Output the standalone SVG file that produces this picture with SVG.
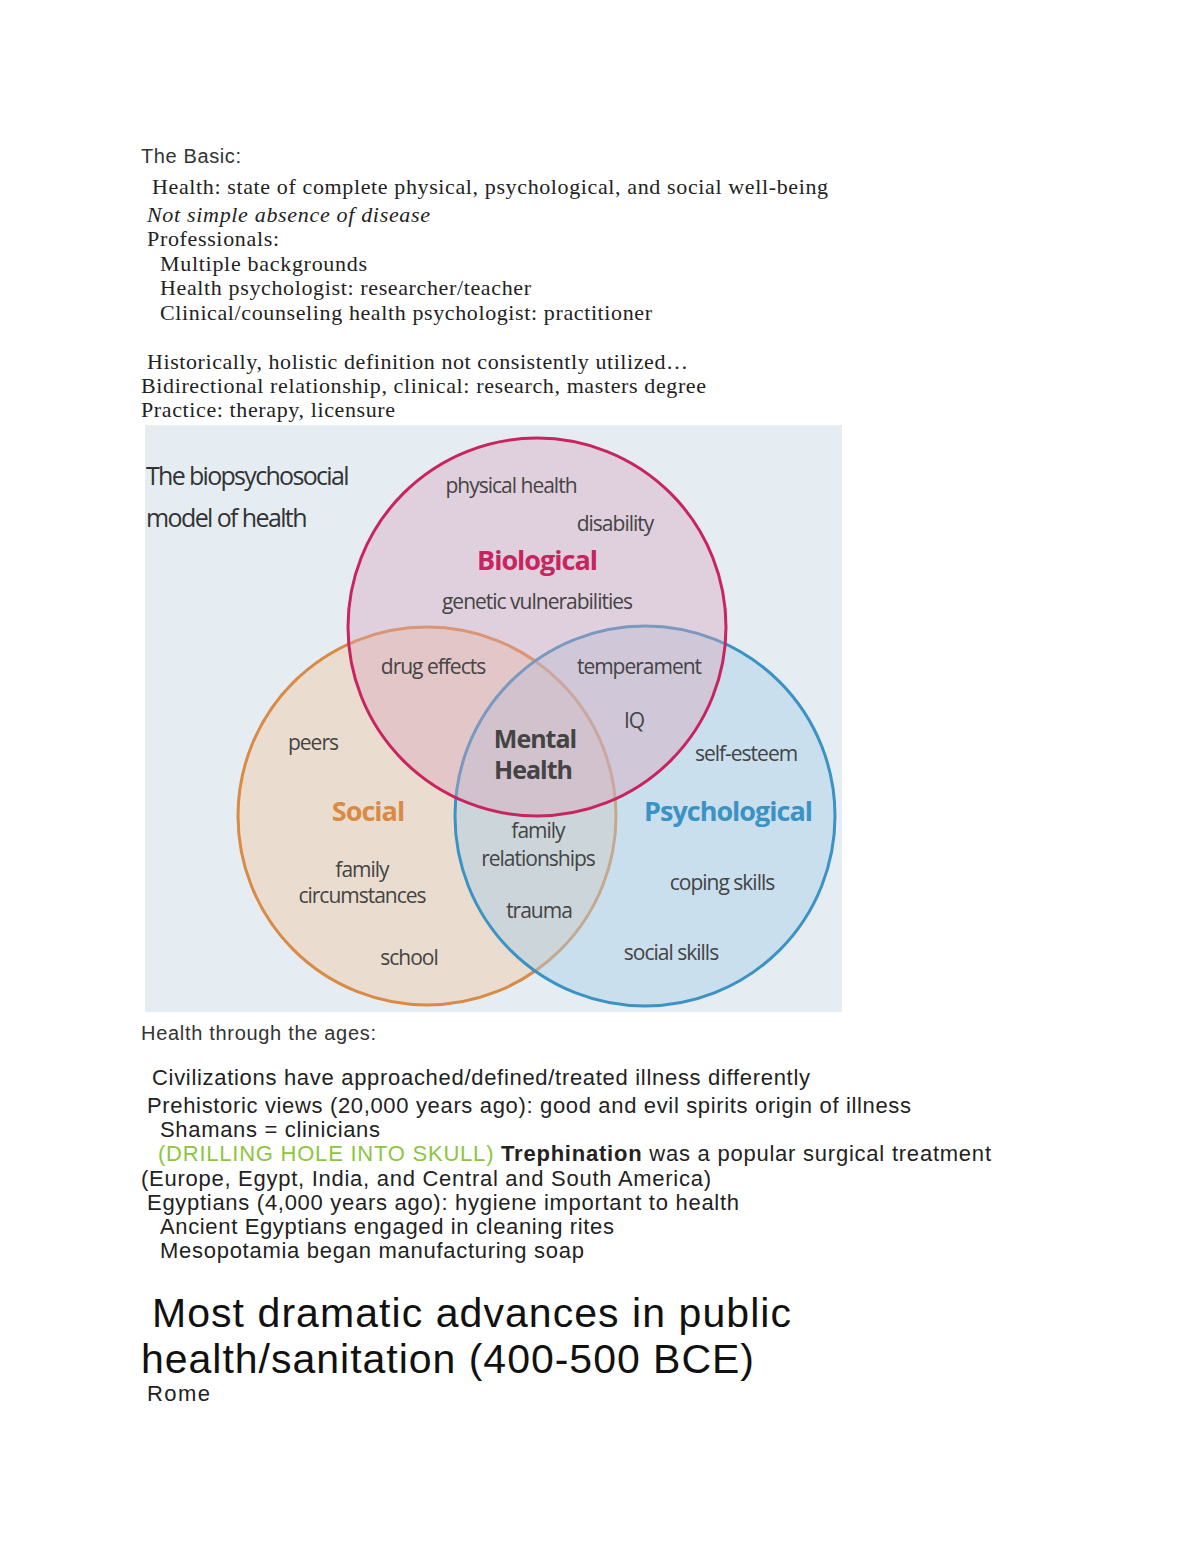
<svg xmlns="http://www.w3.org/2000/svg" width="1200" height="1553" viewBox="0 0 1200 1553">
<style>
.s{font-family:"Liberation Serif",serif;font-size:22px;fill:#222}
.a{font-family:"Liberation Sans",sans-serif;font-size:22px;fill:#222}
.v{font-family:"Open Sans","Liberation Sans",sans-serif;font-size:21px;fill:#444;text-anchor:middle;letter-spacing:-1px}
.h{font-family:"Open Sans","Liberation Sans",sans-serif;font-size:27px;font-weight:bold;text-anchor:middle;letter-spacing:-1px}
</style>
<rect width="1200" height="1553" fill="#fff"/>
<g id="top-text">
<text class="a" x="141" y="163" textLength="100" style="font-size:20px;fill:#333">The Basic:</text>
<text class="s" x="152" y="194" textLength="676">Health: state of complete physical, psychological, and social well-being</text>
<text class="s" x="147" y="222" textLength="283" font-style="italic">Not simple absence of disease</text>
<text class="s" x="147" y="246" textLength="132">Professionals:</text>
<text class="s" x="160" y="271" textLength="207">Multiple backgrounds</text>
<text class="s" x="160" y="295" textLength="371">Health psychologist: researcher/teacher</text>
<text class="s" x="160" y="320" textLength="492">Clinical/counseling health psychologist: practitioner</text>
<text class="s" x="147" y="369" textLength="541">Historically, holistic definition not consistently utilized…</text>
<text class="s" x="141" y="393" textLength="565">Bidirectional relationship, clinical: research, masters degree</text>
<text class="s" x="141" y="417" textLength="254">Practice: therapy, licensure</text>
</g>
<g id="venn">
<rect x="145" y="425" width="697" height="587" fill="#e5edf3"/>
<text x="146" y="485" textLength="202" style="font-family:'Open Sans',sans-serif;font-size:25px;fill:#333;letter-spacing:-1.5px">The biopsychosocial</text>
<text x="146" y="527" textLength="160" style="font-family:'Open Sans',sans-serif;font-size:25px;fill:#333;letter-spacing:-1.5px">model of health</text>
<g id="social"><circle cx="427" cy="816" r="189" fill="#f0c9a4" fill-opacity="0.45" stroke="#d98a45" stroke-width="3"/></g>
<g id="psychological"><circle cx="645" cy="816" r="190" fill="#a9cfe6" fill-opacity="0.45" stroke="#3b92c4" stroke-width="3"/></g>
<g id="biological"><circle cx="537" cy="627" r="189" fill="#d9a6bc" fill-opacity="0.4" stroke="#c8245f" stroke-width="3"/></g>
<text class="v" x="511" y="493">physical health</text>
<text class="v" x="615" y="531">disability</text>
<text class="h" x="537" y="570" fill="#c8245f">Biological</text>
<text class="v" x="537" y="609">genetic vulnerabilities</text>
<text class="v" x="433" y="674">drug effects</text>
<text class="v" x="639" y="674">temperament</text>
<text class="v" x="634" y="728">IQ</text>
<text class="v" x="313" y="750">peers</text>
<text class="v" x="746" y="761">self-esteem</text>
<text class="h" x="535" y="748" style="font-size:25px" fill="#444">Mental</text>
<text class="h" x="533" y="779" style="font-size:25px" fill="#444">Health</text>
<text class="h" x="368" y="821" fill="#d98a45">Social</text>
<text class="h" x="728" y="821" fill="#3b92c4">Psychological</text>
<text class="v" x="538" y="838">family</text>
<text class="v" x="538" y="866">relationships</text>
<text class="v" x="362" y="877">family</text>
<text class="v" x="362" y="903">circumstances</text>
<text class="v" x="722" y="890">coping skills</text>
<text class="v" x="539" y="918">trauma</text>
<text class="v" x="409" y="965">school</text>
<text class="v" x="671" y="960">social skills</text>
</g>
<g id="bottom-text">
<text class="a" x="141" y="1040" textLength="235" style="font-size:20px;fill:#333">Health through the ages:</text>
<text class="a" x="152" y="1085" textLength="658">Civilizations have approached/defined/treated illness differently</text>
<text class="a" x="147" y="1113" textLength="764">Prehistoric views (20,000 years ago): good and evil spirits origin of illness</text>
<text class="a" x="160" y="1137" textLength="220">Shamans = clinicians</text>
<text class="a" x="158" y="1161" textLength="833"><tspan fill="#8cc63f">(DRILLING HOLE INTO SKULL)</tspan> <tspan font-weight="bold">Trephination</tspan> was a popular surgical treatment</text>
<text class="a" x="141" y="1186" textLength="570">(Europe, Egypt, India, and Central and South America)</text>
<text class="a" x="147" y="1210" textLength="592">Egyptians (4,000 years ago): hygiene important to health</text>
<text class="a" x="160" y="1234" textLength="454">Ancient Egyptians engaged in cleaning rites</text>
<text class="a" x="160" y="1258" textLength="424">Mesopotamia began manufacturing soap</text>
<text class="a" x="152" y="1327" textLength="639" style="font-size:41px;fill:#111">Most dramatic advances in public</text>
<text class="a" x="141" y="1373" textLength="613" style="font-size:41px;fill:#111">health/sanitation (400-500 BCE)</text>
<text class="a" x="147" y="1401" textLength="63">Rome</text>
</g>
</svg>
